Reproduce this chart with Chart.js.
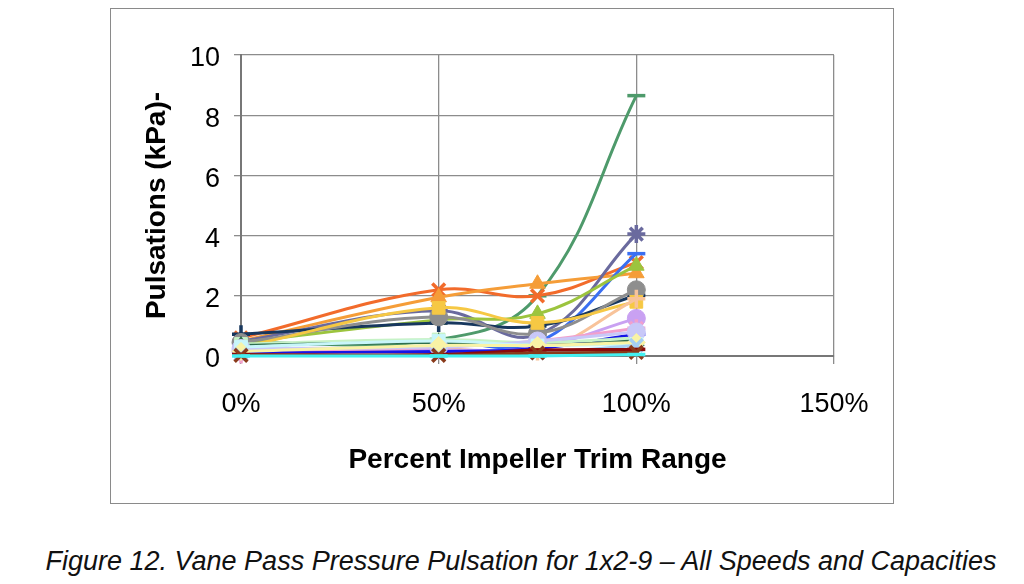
<!DOCTYPE html>
<html>
<head>
<meta charset="utf-8">
<script src="https://cdn.jsdelivr.net/npm/chart.js@4/dist/chart.umd.min.js"></script>
<style>
  html, body { margin: 0; padding: 0; background: #fff; width: 1024px; height: 584px; overflow: hidden; }
  #box { position: absolute; left: 110px; top: 8px; width: 784px; height: 496px; border: 1.5px solid #8a8a8a; box-sizing: border-box; }
  #wrap { position: absolute; left: 110px; top: 8px; width: 784px; height: 496px; }
  #caption { position: absolute; left: 0; width: 1042px; top: 546px; text-align: center;
             font-family: "Liberation Sans", Arial, sans-serif; font-style: italic; font-size: 27px; color: #111; }
</style>
</head>
<body>
<div id="box"></div>
<div id="wrap"><canvas id="c" width="784" height="496"></canvas></div>
<div id="caption">Figure 12. Vane Pass Pressure Pulsation for 1x2-9 – All Speeds and Capacities</div>
<script>
// Percent impeller trim range (fraction)
const trimRange = [0, 0.5, 0.75, 1.0];

// Pulsation series (kPa) at each trim value
const s1  = [0.45, 0.55, 2.0, 8.65];
const s2  = [0.6, 2.2, 2.0, 3.1];
const s3  = [0.5, 1.95, 2.4, 2.75];
const s4  = [0.5, 1.5, 0.7, 4.05];
const s5  = [0.35, 0.5, 0.45, 3.4];
const s6  = [0.45, 1.2, 1.4, 3.0];
const s7  = [0.45, 1.3, 0.75, 2.2];
const s8  = [0.72, 1.1, 1.0, 2.02];
const s9  = [0.3, 1.6, 1.1, 1.8];
const s10 = [0.2, 0.25, 0.15, 1.9];
const s11 = [0.15, 0.2, 0.3, 1.25];
const s12 = [0.05, 0.3, 0.5, 0.92];
const s13 = [0.1, 0.15, 0.25, 0.72];
const s14 = [0.4, 0.55, 0.45, 0.6];
const s15 = [0.35, 0.45, 0.35, 0.5];
const s16 = [0.15, 0.35, 0.35, 0.45];
const s17 = [0.05, 0.05, 0.1, 0.35];
const s18 = [0.05, 0.05, 0.2, 0.22];
const s19 = [0.02, 0.02, 0.1, 0.12];
const s20 = [0.0, 0.0, 0.0, 0.05];
const s21 = [0.3, 0.5, 0.35, 0.4];
const s22 = [0.25, 0.3, 0.5, 0.8];

const yTicks = [0, 2, 4, 6, 8, 10];
const xTickLabels = ['0%', '50%', '100%', '150%'];

const seriesDefs = [
  [s20, '#44f0f0', 'line'],
  [s19, '#8a3a1a', 'crossRot'],
  [s18, '#8b0a0a', 'line'],
  [s17, '#a4cff4', 'crossRot'],
  [s16, '#f9f3a6', 'rectRot'],
  [s21, '#c8f6fa', 'rect'],
  [s22, '#c8c8f8', 'circle'],
  [s15, '#2f6e4e', 'triangle'],
  [s14, '#c6f2c6', 'rect'],
  [s13, '#1414e6', 'line'],
  [s12, '#f2a0cc', 'star'],
  [s11, '#c9a1f2', 'circle'],
  [s10, '#f8c39a', 'cross'],
  [s9,  '#f6c844', 'rect'],
  [s7,  '#8e8e8e', 'circle'],
  [s8,  '#17375e', 'cross'],
  [s6,  '#9cc43e', 'triangle'],
  [s5,  '#3a6ff2', 'line'],
  [s4,  '#6a6a9e', 'star'],
  [s3,  '#f59d38', 'triangle'],
  [s2,  '#f26b2b', 'crossRot'],
  [s1,  '#4e9a6b', 'line']
];

const strokeMarkers = ['line', 'cross', 'crossRot', 'star'];

const datasets = seriesDefs.map(([vals, color, marker], i) => ({
  label: 'Series ' + (i + 1),
  data: vals.map((v, j) => ({ x: trimRange[j], y: v })),
  borderColor: color,
  backgroundColor: color,
  pointStyle: marker,
  pointRadius: 9,
  pointBorderWidth: strokeMarkers.includes(marker) ? 3.5 : 1,
  pointBorderColor: color,
  borderWidth: 3,
  tension: 0.4,
  clip: false,
  fill: false
}));

const gridColor = '#8c8c8c';
const fontFam = 'Liberation Sans, Arial, sans-serif';

new Chart(document.getElementById('c'), {
  type: 'line',
  data: { datasets },
  options: {
    responsive: false,
    animation: false,
    events: [],
    layout: { padding: { top: 47, right: 60, left: 0, bottom: 0 } },
    plugins: { legend: { display: false }, tooltip: { enabled: false } },
    scales: {
      x: {
        type: 'linear',
        min: 0, max: 1.5,
        afterFit: s => { s.height = 148; },
        afterBuildTicks: s => { s.ticks = [0, 0.5, 1.0, 1.5].map(v => ({ value: v })); },
        ticks: {
          callback: (v, i) => xTickLabels[i],
          color: '#000',
          font: { family: fontFam, size: 27 },
          padding: 24,
          maxRotation: 0
        },
        grid: { color: gridColor, lineWidth: 1.3, tickLength: 8, tickColor: gridColor },
        border: { color: '#777', width: 2 },
        title: {
          display: true,
          text: 'Percent Impeller Trim Range',
          color: '#000',
          font: { family: fontFam, size: 28, weight: 'bold' },
          padding: { top: 0, bottom: 27 }
        }
      },
      y: {
        min: 0, max: 10,
        afterFit: s => { s.width = 131; },
        afterBuildTicks: s => { s.ticks = yTicks.map(v => ({ value: v })); },
        ticks: {
          color: '#000',
          font: { family: fontFam, size: 27 },
          padding: 14,
          labelOffset: 4
        },
        grid: { color: gridColor, lineWidth: 1.3, tickLength: 7, tickColor: gridColor },
        border: { color: '#777', width: 2 },
        title: {
          display: true,
          text: 'Pulsations (kPa)-',
          color: '#000',
          font: { family: fontFam, size: 28, weight: 'bold' },
          padding: { top: 30, bottom: 0 }
        }
      }
    }
  }
});
</script>
</body>
</html>
